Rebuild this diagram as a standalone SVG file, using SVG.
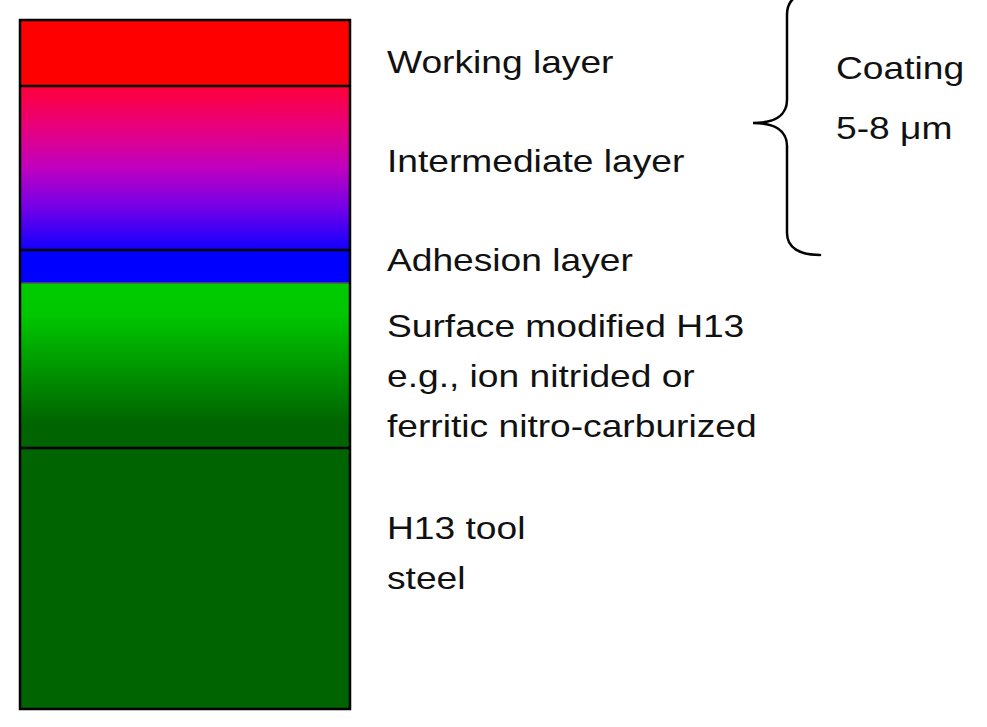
<svg xmlns="http://www.w3.org/2000/svg" width="987" height="727" viewBox="0 0 987 727">
  <style>
    .lbl { font-family: "Liberation Sans", Arial, Helvetica, sans-serif; font-size: 31.5px; fill: #111; }
    .div { stroke: #000; stroke-width: 2.5; fill: none; }
    .brace { stroke: #000; stroke-width: 2.5; fill: none; stroke-linecap: round; }
  </style>
  <defs>
    <linearGradient id="gInter" x1="0" y1="0" x2="0" y2="1">
      <stop offset="0" stop-color="#ff0038"/>
      <stop offset="0.25" stop-color="#e8007c"/>
      <stop offset="0.5" stop-color="#c000c0"/>
      <stop offset="0.75" stop-color="#7000e8"/>
      <stop offset="1" stop-color="#1000ff"/>
    </linearGradient>
    <linearGradient id="gSurf" x1="0" y1="0" x2="0" y2="1">
      <stop offset="0" stop-color="#00cc00"/>
      <stop offset="0.2" stop-color="#00c600"/>
      <stop offset="0.85" stop-color="#006400"/>
      <stop offset="1" stop-color="#006400"/>
    </linearGradient>
  </defs>
  <rect width="987" height="727" fill="#fff"/>

  <g id="working-layer">
    <rect x="20" y="20" width="330" height="66" fill="#ff0000"/>
    <text class="lbl" transform="translate(387,73) scale(1.18,1)">Working layer</text>
  </g>
  <g id="intermediate-layer">
    <rect x="20" y="86" width="330" height="164" fill="url(#gInter)"/>
    <text class="lbl" transform="translate(387,172) scale(1.18,1)">Intermediate layer</text>
  </g>
  <g id="adhesion-layer">
    <rect x="20" y="250" width="330" height="33" fill="#0000ff"/>
    <text class="lbl" transform="translate(387,271) scale(1.18,1)">Adhesion layer</text>
  </g>
  <g id="surface-layer">
    <rect x="20" y="283" width="330" height="165" fill="url(#gSurf)"/>
    <text class="lbl" transform="translate(387,337) scale(1.18,1)">Surface modified H13</text>
    <text class="lbl" transform="translate(387,387) scale(1.18,1)">e.g., ion nitrided or</text>
    <text class="lbl" transform="translate(387,437) scale(1.18,1)">ferritic nitro-carburized</text>
  </g>
  <g id="substrate">
    <rect x="20" y="448" width="330" height="261" fill="#006400"/>
    <text class="lbl" transform="translate(387,539) scale(1.18,1)">H13 tool</text>
    <text class="lbl" transform="translate(387,589) scale(1.18,1)">steel</text>
  </g>

  <g id="dividers">
    <line class="div" x1="20" y1="86" x2="350" y2="86"/>
    <line class="div" x1="20" y1="250" x2="350" y2="250"/>
    <line x1="20" y1="283" x2="350" y2="283" stroke="#555" stroke-width="1.5"/>
    <line class="div" x1="20" y1="448" x2="350" y2="448"/>
    <rect class="div" x="20" y="20" width="330" height="689"/>
  </g>

  <g id="coating">
    <path class="brace" d="M820,-9 C800,-9 787,-2 787,15 L787,100 C787,115 775,123 753,123 C775,123 787,131 787,146 L787,233 C787,248 800,255 820,255"/>
    <text class="lbl" transform="translate(836,79) scale(1.18,1)">Coating</text>
    <text class="lbl" transform="translate(836,139) scale(1.18,1)">5-8 μm</text>
  </g>
</svg>
